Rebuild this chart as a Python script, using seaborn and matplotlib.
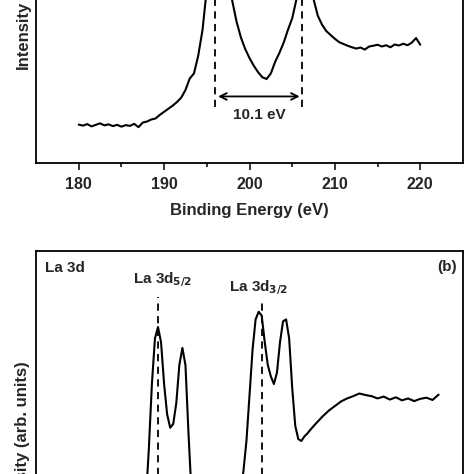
import matplotlib
matplotlib.use("Agg")
import matplotlib.pyplot as plt
import seaborn as sns
import pandas as pd

sns.set_theme(style="ticks")
plt.rcParams['font.family'] = ['Liberation Sans', 'DejaVu Sans']
plt.rcParams['font.weight'] = 'bold'

# Panel (a): binding energy (eV) and intensity (arb.)
energy_a = [180.0, 180.5, 181.0, 181.5, 182.0, 182.5, 183.0, 183.5, 184.0, 184.5, 185.0, 185.5, 186.0,
            186.5, 187.0, 187.5, 188.0, 188.5, 189.0, 189.5, 190.0, 190.5, 191.0, 191.5, 192.0, 192.5,
            193.0, 193.5, 194.0, 194.5, 195.0, 195.5, 196.0, 196.5, 197.0, 197.5, 198.0, 198.5, 199.0,
            199.5, 200.0, 200.5, 201.0, 201.5, 202.0, 202.5, 203.0, 203.5, 204.0, 204.5, 205.0, 205.5,
            206.0, 206.5, 207.0, 207.5, 208.0, 208.5, 209.0, 209.5, 210.0, 210.5, 211.0, 211.5, 212.0,
            212.5, 213.0, 213.5, 214.0, 214.5, 215.0, 215.5, 216.0, 216.5, 217.0, 217.5, 218.0, 218.5,
            219.0, 219.5, 220.0]
intens_a = [0.150, 0.146, 0.152, 0.143, 0.149, 0.155, 0.147, 0.151, 0.144, 0.149, 0.142, 0.148, 0.145,
            0.153, 0.140, 0.158, 0.162, 0.170, 0.174, 0.188, 0.200, 0.212, 0.224, 0.238, 0.255, 0.285,
            0.330, 0.350, 0.420, 0.520, 0.680, 0.860, 0.950, 0.940, 0.840, 0.720, 0.630, 0.550, 0.490,
            0.445, 0.410, 0.380, 0.355, 0.335, 0.328, 0.350, 0.395, 0.430, 0.470, 0.520, 0.565, 0.640,
            0.760, 0.850, 0.780, 0.640, 0.575, 0.540, 0.515, 0.500, 0.485, 0.472, 0.465, 0.458, 0.452,
            0.447, 0.451, 0.443, 0.455, 0.458, 0.462, 0.455, 0.460, 0.452, 0.463, 0.459, 0.466, 0.460,
            0.470, 0.488, 0.462]

# Panel (b): La 3d
energy_b = [825.0, 826.0, 827.0, 828.0, 829.0, 830.0, 831.0, 832.0, 832.5, 833.0, 833.5, 834.0, 834.5,
            835.0, 835.5, 836.0, 836.5, 837.0, 837.5, 838.0, 838.5, 839.0, 839.5, 840.0, 840.5, 841.0,
            842.0, 843.0, 844.0, 845.0, 846.0, 847.0, 848.0, 849.0, 849.5, 850.0, 850.5, 851.0, 851.5,
            852.0, 852.5, 853.0, 853.5, 854.0, 854.5, 855.0, 855.5, 856.0, 856.5, 857.0, 857.5, 858.0,
            858.5, 859.0, 859.5, 860.0, 861.0, 862.0, 863.0, 864.0, 865.0, 866.0, 867.0, 868.0, 869.0,
            870.0, 871.0, 872.0, 873.0, 874.0, 875.0, 876.0, 877.0, 878.0, 879.0, 880.0, 881.0]
intens_b = [0.180, 0.182, 0.185, 0.190, 0.196, 0.205, 0.218, 0.240, 0.270, 0.340, 0.480, 0.650, 0.770,
            0.800, 0.760, 0.650, 0.570, 0.535, 0.545, 0.600, 0.700, 0.745, 0.700, 0.520, 0.360, 0.280,
            0.240, 0.225, 0.220, 0.225, 0.235, 0.255, 0.300, 0.420, 0.500, 0.620, 0.740, 0.820, 0.840,
            0.830, 0.760, 0.700, 0.670, 0.650, 0.680, 0.760, 0.815, 0.820, 0.770, 0.640, 0.540, 0.505,
            0.500, 0.512, 0.520, 0.530, 0.548, 0.565, 0.580, 0.592, 0.604, 0.612, 0.618, 0.625, 0.621,
            0.618, 0.612, 0.617, 0.609, 0.615, 0.607, 0.612, 0.605, 0.611, 0.614, 0.608, 0.622]

df_a = pd.DataFrame({"E": energy_a, "I": intens_a})
df_b = pd.DataFrame({"E": energy_b, "I": intens_b})

W = 474
fig = plt.figure(figsize=(4.74, 4.74), dpi=100)
ax1 = fig.add_axes([36 / W, (W - 163) / W, 427 / W, 256 / W])
ax2 = fig.add_axes([36 / W, (W - 631) / W, 427 / W, 380 / W])

sns.lineplot(data=df_a, x="E", y="I", ax=ax1, color="black", lw=1.5)
ax1.set_xlim(175, 225)
ax1.set_ylim(0, 1)
ax1.set_yticks([])
ax1.set_xticks([180, 190, 200, 210, 220])
ax1.set_xticks([185, 195, 205, 215], minor=True)
ax1.tick_params(axis='x', which='major', length=5, width=1.3, labelsize=11.5, pad=5)
ax1.tick_params(axis='x', which='minor', length=3, width=1.3)
ax1.set_xlabel("Binding Energy (eV)", fontsize=12, fontweight='bold', labelpad=8)
ax1.set_ylabel("Intensity", fontsize=12, fontweight='bold')
for x in [196.0, 206.2]:
    ax1.axvline(x, ymin=0.22, ymax=1, color="black", ls=(0, (4, 3)), lw=1.3)
ax1.annotate("", xy=(196.0, 0.26), xytext=(206.2, 0.26),
             arrowprops=dict(arrowstyle="<->", color="black", lw=1.3))
ax1.text(201.1, 0.215, "10.1 eV", ha="center", va="top", fontsize=11, fontweight='bold')

sns.lineplot(data=df_b, x="E", y="I", ax=ax2, color="black", lw=1.5)
ax2.set_xlim(815, 885)
ax2.set_ylim(0, 1)
ax2.set_yticks([])
ax2.set_xticks([])
ax2.set_xlabel("")
ax2.set_ylabel("Intensity (arb. units)", fontsize=12, fontweight='bold')
ax2.axvline(835.0, ymin=0, ymax=0.88, color="black", ls=(0, (4, 3)), lw=1.3)
ax2.axvline(852.0, ymin=0, ymax=0.865, color="black", ls=(0, (4, 3)), lw=1.3)
ax2.text(835.8, 0.90, "La 3d$_{\\mathbf{5/2}}$", ha="center", va="bottom", fontsize=11, fontweight='bold')
ax2.text(851.5, 0.88, "La 3d$_{\\mathbf{3/2}}$", ha="center", va="bottom", fontsize=11, fontweight='bold')
ax2.text(0.02, 0.975, "La 3d", transform=ax2.transAxes, ha="left", va="top", fontsize=11, fontweight='bold')
ax2.text(0.985, 0.975, "(b)", transform=ax2.transAxes, ha="right", va="top", fontsize=11, fontweight='bold')

for ax in (ax1, ax2):
    for s in ax.spines.values():
        s.set_linewidth(1.3)
        s.set_color("black")

fig.savefig("out.png", dpi=100)
